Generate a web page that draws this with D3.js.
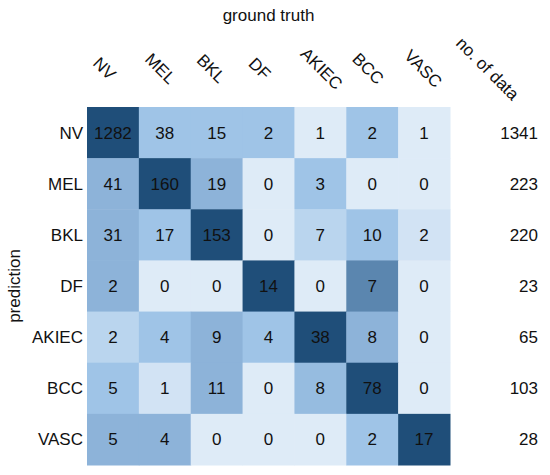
<!DOCTYPE html>
<html>
<head>
<meta charset="utf-8">
<script src="https://cdn.jsdelivr.net/npm/d3@7"></script>
<style>
  body { margin: 0; background: #fff; }
  text { font-family: "Liberation Sans", Arial, sans-serif; font-size: 17px; fill: #111; }
</style>
</head>
<body>
<script>
// classes, used for both axes
var classes = ["NV", "MEL", "BKL", "DF", "AKIEC", "BCC", "VASC"];

// counts[prediction][ground truth]
var counts = [
  [1282, 38, 15, 2, 1, 2, 1],
  [41, 160, 19, 0, 3, 0, 0],
  [31, 17, 153, 0, 7, 10, 2],
  [2, 0, 0, 14, 0, 7, 0],
  [2, 4, 9, 4, 38, 8, 0],
  [5, 1, 11, 0, 8, 78, 0],
  [5, 4, 0, 0, 0, 2, 17]
];

// shade for every cell (0 = palest, 6 = darkest)
var shade = [
  [6, 3, 3, 3, 0, 3, 0],
  [4, 6, 4, 0, 3, 0, 0],
  [4, 3, 6, 0, 2, 3, 1],
  [4, 0, 0, 6, 0, 5, 0],
  [2, 3, 4, 3, 6, 4, 0],
  [3, 1, 4, 0, 3.5, 6, 0],
  [4, 4, 0, 0, 0, 3, 6]
];

// row totals shown in the extra column
var totals = [1341, 223, 220, 23, 65, 103, 28];

var W = 550, H = 475;

var svg = d3.select("body").append("svg")
    .attr("width", W)
    .attr("height", H);

var x = d3.scaleBand().domain(classes).range([87, 450]);
var y = d3.scaleBand().domain(classes).range([107, 465]);

var color = d3.scaleLinear()
    .domain([0, 1, 2, 3, 4, 5, 6])
    .range(["#deebf7", "#d2e3f4", "#bad5ee", "#9fc4e7", "#8db3d9", "#5b86af", "#1f4e79"]);

var cells = [];
counts.forEach(function(row, i) {
  row.forEach(function(v, j) {
    cells.push({ pred: classes[i], truth: classes[j], value: v, shade: shade[i][j] });
  });
});

svg.selectAll("rect.cell")
  .data(cells)
  .enter().append("rect")
    .attr("class", "cell")
    .attr("x", function(d) { return x(d.truth); })
    .attr("y", function(d) { return y(d.pred); })
    .attr("width", x.bandwidth() + 0.5)
    .attr("height", y.bandwidth() + 0.5)
    .attr("fill", function(d) { return color(d.shade); });

svg.selectAll("text.val")
  .data(cells)
  .enter().append("text")
    .attr("class", "val")
    .attr("x", function(d) { return x(d.truth) + x.bandwidth() / 2; })
    .attr("y", function(d) { return y(d.pred) + y.bandwidth() / 2; })
    .attr("dy", "0.35em")
    .attr("text-anchor", "middle")
    .text(function(d) { return d.value; });

// row labels (prediction)
svg.selectAll("text.rowlab")
  .data(classes)
  .enter().append("text")
    .attr("class", "rowlab")
    .attr("x", 83)
    .attr("y", function(d) { return y(d) + y.bandwidth() / 2; })
    .attr("dy", "0.35em")
    .attr("text-anchor", "end")
    .text(function(d) { return d; });

// totals column
svg.selectAll("text.total")
  .data(totals)
  .enter().append("text")
    .attr("class", "total")
    .attr("x", 538)
    .attr("y", function(d, i) { return y(classes[i]) + y.bandwidth() / 2; })
    .attr("dy", "0.35em")
    .attr("text-anchor", "end")
    .text(function(d) { return d; });

// column labels, rotated 45deg, left edge of the rotated box near the column start
var colLabels = classes.concat(["no. of data"]);
svg.selectAll("text.collab")
  .data(colLabels)
  .enter().append("text")
    .attr("class", "collab")
    .attr("text-anchor", "middle")
    .attr("dy", "0.35em")
    .text(function(d) { return d; })
    .attr("transform", function(d, i) {
      var w = this.getComputedTextLength();
      var left = 87 + i * x.bandwidth() + 5;
      var cx = left + Math.SQRT1_2 * (w + 12) / 2;
      return "translate(" + cx + ",68.5) rotate(45)";
    });

svg.append("text")
    .attr("x", (87 + 450) / 2)
    .attr("y", 21)
    .attr("text-anchor", "middle")
    .text("ground truth");

svg.append("text")
    .attr("transform", "translate(19.5," + (107 + 465) / 2 + ") rotate(-90)")
    .attr("text-anchor", "middle")
    .text("prediction");
</script>
</body>
</html>
